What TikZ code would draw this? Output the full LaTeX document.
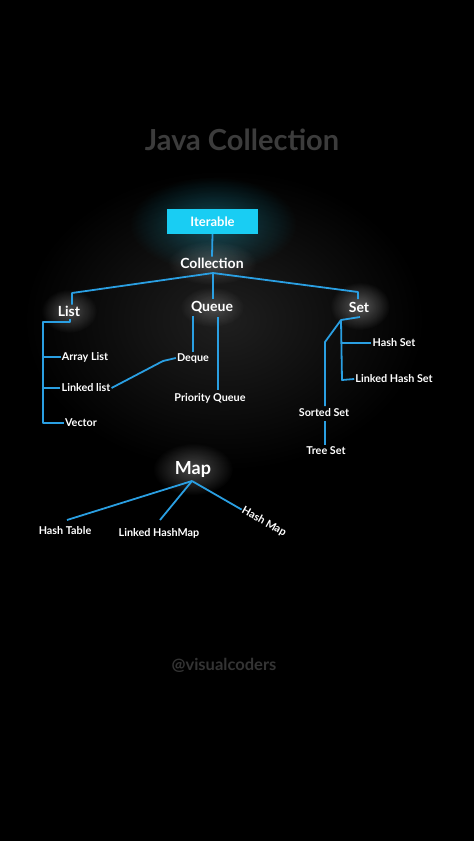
\documentclass[tikz,border=0pt]{standalone}
\usepackage{fontspec}
\setmainfont{Lato}
\usetikzlibrary{fadings}
\definecolor{wireblue}{HTML}{2A9FE2}
\definecolor{itercyan}{HTML}{19CDF3}
\definecolor{titlegray}{HTML}{3C3C3C}
\definecolor{markgray}{HTML}{343434}
\tikzfading[name=glowfade, inner color=transparent!0, outer color=transparent!100]
\begin{document}
\begin{tikzpicture}[x=1pt,y=-1pt,
  lbl/.style={text=white,font=\bfseries\fontsize{10.8}{12}\selectfont,inner sep=1pt},
  cat/.style={text=white,font=\bfseries\fontsize{14}{16}\selectfont,inner sep=1pt},
  wire/.style={draw=wireblue,line width=1.8pt,line join=round},
  haze/.style={fill=#1,path fading=glowfade}]
\fill[black] (0,0) rectangle (474,841);
\useasboundingbox (0,0) rectangle (474,841);
% glows
\fill[haze=itercyan,fill opacity=0.32] (213,224) ellipse (85 and 48);
\fill[haze=white,fill opacity=0.22] (212,263) ellipse (45 and 22);
\fill[haze=white,fill opacity=0.28] (69,311) ellipse (28 and 22);
\fill[haze=white,fill opacity=0.22] (212,307) ellipse (32 and 20);
\fill[haze=white,fill opacity=0.32] (360,306) ellipse (30 and 24);
\fill[haze=white,fill opacity=0.28] (193,469) ellipse (40 and 26);
\fill[haze=white,fill opacity=0.12] (224,320) ellipse (200 and 150);
% title
\node[text=titlegray,font=\bfseries\fontsize{29}{32}\selectfont] (title) at (242,140) {Java Collection};
% nodes
\node[fill=itercyan,text=white,font=\bfseries\fontsize{13}{15}\selectfont,minimum width=91pt,minimum height=25pt,inner sep=0pt] (iter) at (212.5,221.5) {Iterable};
\node[cat] (coll) at (212,263) {Collection};
\node[cat] (list) at (69,311) {List};
\node[cat] (queue) at (212,307) {Queue};
\node[cat] (set) at (359,307) {Set};
\node[lbl] (arr) at (85,357) {Array List};
\node[lbl] (lnk) at (86,388) {Linked list};
\node[lbl] (vec) at (81,423) {Vector};
\node[lbl] (deque) at (193,358) {Deque};
\node[lbl] (pq) at (210,398) {Priority Queue};
\node[lbl] (hs) at (394,343) {Hash Set};
\node[lbl] (lhs) at (394,379) {Linked Hash Set};
\node[lbl] (ss) at (324,413) {Sorted Set};
\node[lbl] (ts) at (326,451) {Tree Set};
\node[text=white,font=\bfseries\fontsize{18}{21}\selectfont,inner sep=1pt] (map) at (193,469) {Map};
\node[lbl] (ht) at (65,531) {Hash Table};
\node[lbl] (lhm) at (159,533) {Linked HashMap};
\node[lbl,rotate=-29] (hm) at (264,522) {Hash Map};
\node[text=markgray,font=\bfseries\fontsize{16.5}{19}\selectfont] (mark) at (224,665) {@visualcoders};
% junction coordinates
\coordinate (cb) at (213,273);
\coordinate (lt) at (72,293);
\coordinate (st) at (358,292);
\coordinate (qb) at (213,299);
\coordinate (sb) at (358,299);
\coordinate (lb) at (70,319);
\coordinate (lc) at (70,322);
\coordinate (lv) at (43,322);
\coordinate (lvb) at (43,423);
\coordinate (la) at (43,357);
\coordinate (ll) at (43,388);
\coordinate (dqa) at (193,316);
\coordinate (dqb) at (193,352);
\coordinate (pqa) at (218,317);
\coordinate (pqb) at (218,390);
\coordinate (setb) at (360,317);
\coordinate (sj) at (341,320);
\coordinate (sjb) at (342,380);
\coordinate (sjh) at (342,343);
\coordinate (sd) at (325,342);
\coordinate (ssa) at (325,406);
\coordinate (ssb) at (325,421);
\coordinate (tsa) at (325,445);
\coordinate (mp) at (192,481);
\coordinate (htend) at (67,520);
\coordinate (lhmend) at (160,520);
\coordinate (lkbend) at (163,361);
% connectors
\draw[wire] (iter.south) -- (coll.north);
\draw[wire] (cb) -- (lt) -- (lt |- list.north);
\draw[wire] (cb) -- (qb);
\draw[wire] (cb) -- (st) -- (sb);
\draw[wire] (lb) -- (lc) -- (lv) -- (lvb) -- (vec.west);
\draw[wire] (la) -- (arr.west);
\draw[wire] (ll) -- (lnk.west);
\draw[wire] (lnk.east) -- (lkbend) -- (deque.west);
\draw[wire] (dqa) -- (dqb);
\draw[wire] (pqa) -- (pqb);
\draw[wire] (setb) -- (sj) -- (sjb) -- (lhs.west);
\draw[wire] (sjh) -- (hs.west);
\draw[wire] (sj) -- (sd) -- (ssa);
\draw[wire] (ssb) -- (tsa);
\draw[wire] (mp) -- (htend);
\draw[wire] (mp) -- (lhmend);
\draw[wire] (mp) -- (hm.west);
\end{tikzpicture}
\end{document}
